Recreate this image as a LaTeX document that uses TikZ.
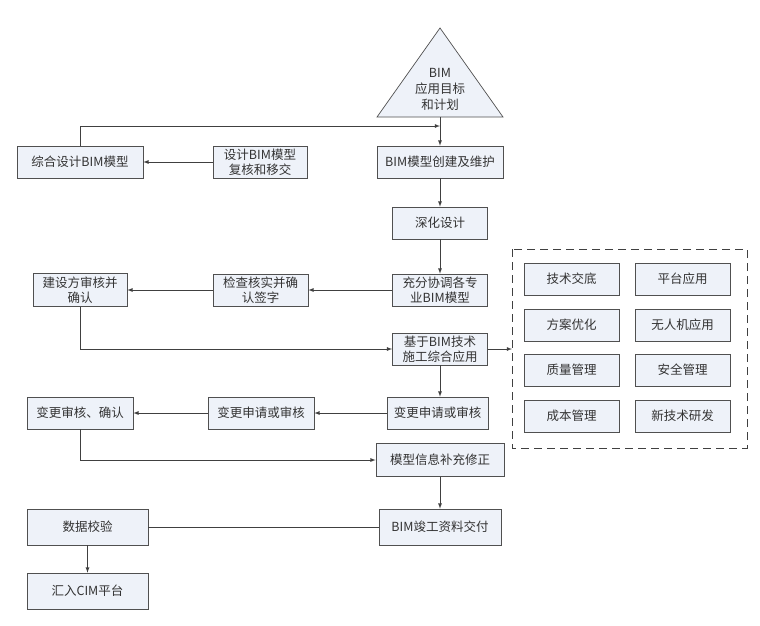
\documentclass[tikz,border=0pt]{standalone}
\usepackage{fontspec}
\setmainfont{Noto Sans CJK SC}
\usetikzlibrary{calc}
\definecolor{boxfill}{HTML}{EEF2F9}
\definecolor{boxline}{HTML}{505050}

\tikzset{
  box/.style={draw=boxline,fill=boxfill,line width=0.7pt,align=center,
    inner sep=1pt,text=black!80,font=\fontsize{12.5}{15}\selectfont},
  item/.style={box,minimum width=95pt,minimum height=32pt},
  link/.style={draw=black!75,line width=0.8pt}
}

\begin{document}
\begin{tikzpicture}[>=latex,x=1pt,y=-1pt]
        \useasboundingbox(0,0)rectangle(760,625);
        % goal triangle
        \draw[box](440,28)--(503,117)--(377,117)--cycle;
        \node[text=black!80,font=\fontsize{12.5}{16}\selectfont,align=center](goal)at(440,89){BIM\\应用目标\\和计划};
        \coordinate(tb)at(440,117);
        % main column
        \node[box,minimum width=126pt,minimum height=32pt](create)at(440,162){BIM模型创建及维护};
        \node[item](deep)at(440,223){深化设计};
        \node[item](coord)at(440,290){充分协调各专\\业BIM模型};
        \node[item](apply)at(440,349){基于BIM技术\\施工综合应用};
        \node[box,minimum width=101pt,minimum height=32pt](chg)at(437.5,413){变更申请或审核};
        \node[box,minimum width=128pt,minimum height=33pt](info)at(440,460){模型信息补充修正};
        \node[box,minimum width=122pt,minimum height=36pt](done)at(440,527){BIM竣工资料交付};
        % middle column
        \node[box,minimum width=94pt,minimum height=32pt](review)at(260,162){设计BIM模型\\复核和移交};
        \node[item](check)at(260.5,290){检查核实并确\\认签字};
        \node[box,minimum width=106pt,minimum height=32pt](chgb)at(261,413){变更申请或审核};
        % left column
        \node[box,minimum width=126pt,minimum height=32pt](merge)at(80,162){综合设计BIM模型};
        \node[box,minimum width=94pt,minimum height=33pt](owner)at(80,290){建设方审核并\\确认};
        \node[box,minimum width=106pt,minimum height=32pt](conf)at(80,413){变更审核、确认};
        \node[box,minimum width=121pt,minimum height=36pt](data)at(87.5,527){数据校验};
        \node[box,minimum width=121pt,minimum height=36pt](cim)at(87.5,591){汇入CIM平台};
        % application group
        \draw[dash pattern=on 8pt off 5pt,draw=black!75,line width=0.8pt](512,249)rectangle(747,448);
        \coordinate(grp)at(512,349);
        \node[item](a1)at(571.5,279){技术交底};
        \node[item](a2)at(571.5,325){方案优化};
        \node[item](a3)at(571.5,370){质量管理};
        \node[item](a4)at(571.5,416){成本管理};
        \node[item](b1)at(682.5,279){平台应用};
        \node[item](b2)at(682.5,325){无人机应用};
        \node[item](b3)at(682.5,370){安全管理};
        \node[item](b4)at(682.5,416){新技术研发};
        % connectors
        \draw[link,->](tb)--(create);
        \draw[link,->](merge.north)|-(440,126);
        \draw[link,->](review)--(merge);
        \draw[link,->](create)--(deep);
        \draw[link,->](deep)--(coord);
        \draw[link,->](coord)--(check);
        \draw[link,->](check)--(owner);
        \draw[link,->](owner.south)|-(apply.west);
        \draw[link,->](apply.east)--(grp);
        \draw[link,->](apply.south)--(apply.south|-chg.north);
        \draw[link,->](chg)--(chgb);
        \draw[link,->](chgb)--(conf);
        \draw[link,->](conf.south)|-(info.west);
        \draw[link,->](info)--(done);
        \draw[link](done)--(data);
        \draw[link,->](data)--(cim);
\end{tikzpicture}
\end{document}
